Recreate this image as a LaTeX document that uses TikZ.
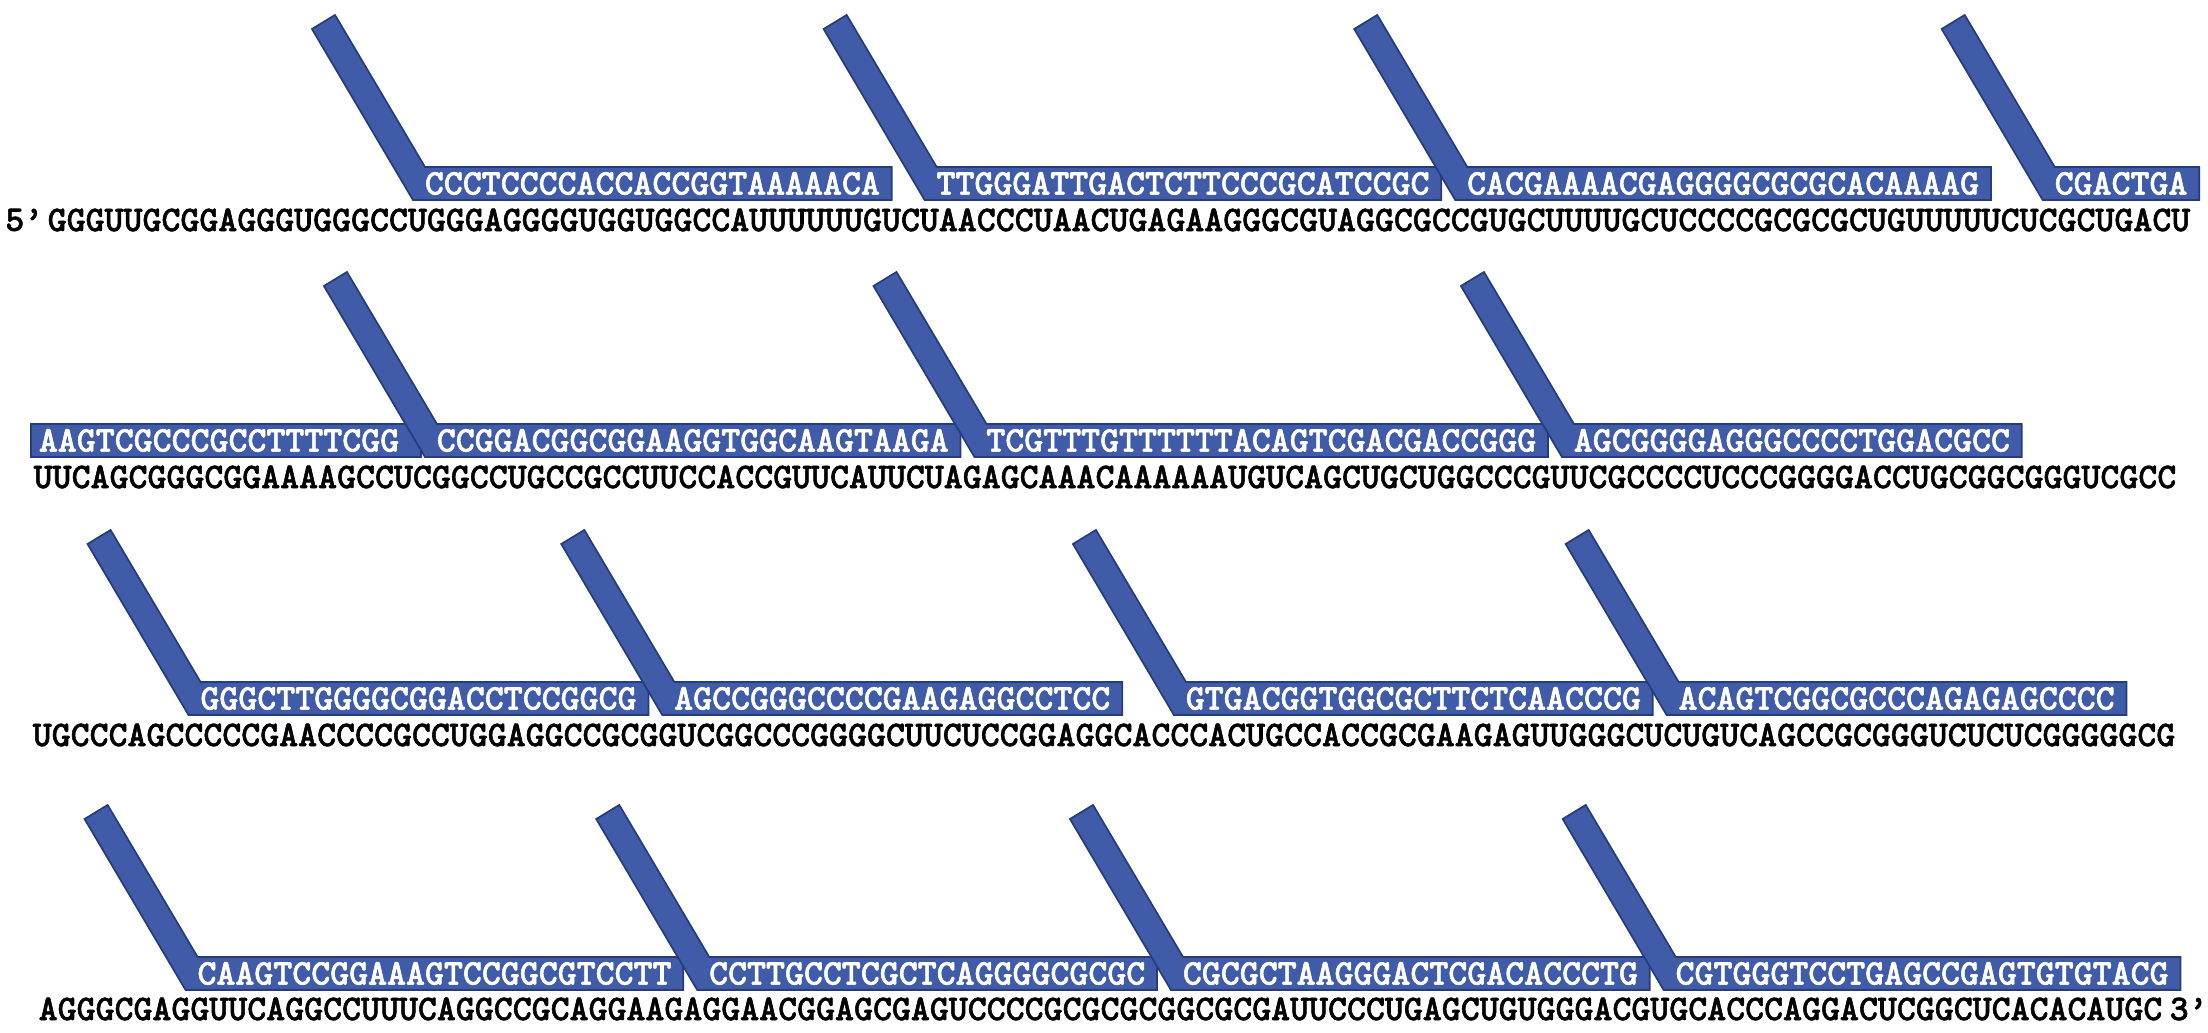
\documentclass[tikz,border=0pt]{standalone}
\usepackage{fontspec}
\usetikzlibrary{positioning}
\newfontfamily\seqfam{lmmonolt10-bold.otf}[FakeBold=1.5]
\definecolor{probeblue}{RGB}{64,92,168}
\definecolor{probeline}{RGB}{38,60,125}
\newcommand{\pch}{18.95}
\newcommand{\seqfont}{\seqfam\fontsize{10.27}{12}\selectfont}
% probe: row start, first letter, letters, bar bottom, name, text
\newcommand{\probebar}[6]{%
  \filldraw[probe] ({#1+#2*\pch-8},#4) -- ++(-101,-171) -- ++(23,-14) -- ++(90,152)
    -- ({#1+(#2+#3)*\pch+16},#4-33) -- ({#1+(#2+#3)*\pch+16},#4) -- cycle;
  \node[probetext] (#5) at ({#1+(#2+#3/2)*\pch+4},#4-16.5) {#6};}
\begin{document}
\begin{tikzpicture}[x=0.01cm, y=-0.01cm,
    probe/.style={fill=probeblue, draw=probeline, line width=0.5pt},
    probetext/.style={text=white, font=\seqfont, inner sep=0pt},
    rna/.style={font=\seqfont, anchor=west, inner sep=0pt},
    endmark/.style={font=\seqfont, inner sep=0pt}]
  \useasboundingbox (0,0) rectangle (2208,1033);

  % row 1
  \probebar{42}{20}{24}{200}{r1a}{CCCTCCCCACCACCGGTAAAAACA}
  \probebar{42}{47}{26}{200}{r1b}{TTGGGATTGACTCTTCCCGCATCCGC}
  \probebar{42}{75}{27}{200}{r1c}{CACGAAAACGAGGGGCGCGCACAAAAG}
  \probebar{42}{106}{7}{200}{r1d}{CGACTGA}
  \node[rna] (rna1) at (47,220) {GGGUUGCGGAGGGUGGGCCUGGGAGGGGUGGUGGCCAUUUUUUGUCUAACCCUAACUGAGAAGGGCGUAGGCGCCGUGCUUUUGCUCCCCGCGCGCUGUUUUUCUCGCUGACU};
  \node[endmark, left=0.03cm of rna1] (five) {5’};

  % row 2
  \filldraw[probe] (31,457) rectangle ({35+21*\pch-12},424);
  \node[probetext] (r2a) at ({35+9.5*\pch+4},440.5) {AAGTCGCCCGCCTTTTCGG};
  \probebar{35}{21}{27}{457}{r2b}{CCGGACGGCGGAAGGTGGCAAGTAAGA}
  \probebar{35}{50}{29}{457}{r2c}{TCGTTTGTTTTTTACAGTCGACGACCGGG}
  \probebar{35}{81}{23}{457}{r2d}{AGCGGGGAGGGCCCCTGGACGCC}
  \node[rna] (rna2) at (33,477) {UUCAGCGGGCGGAAAAGCCUCGGCCUGCCGCCUUCCACCGUUCAUUCUAGAGCAAACAAAAAAUGUCAGCUGCUGGCCCGUUCGCCCCUCCCGGGGACCUGCGGCGGGUCGCC};

  % row 3
  \probebar{26}{9}{23}{715}{r3a}{GGGCTTGGGGCGGACCTCCGGCG}
  \probebar{26}{34}{23}{715}{r3b}{AGCCGGGCCCCGAAGAGGCCTCC}
  \probebar{26}{61}{24}{715}{r3c}{GTGACGGTGGCGCTTCTCAACCCG}
  \probebar{26}{87}{23}{715}{r3d}{ACAGTCGGCGCCCAGAGAGCCCC}
  \node[rna] (rna3) at (32,735) {UGCCCAGCCCCCGAACCCCGCCUGGAGGCCGCGGUCGGCCCGGGGCUUCUCCGGAGGCACCCACUGCCACCGCGAAGAGUUGGGCUCUGUCAGCCGCGGGUCUCUCGGGGGCG};

  % row 4
  \probebar{42}{8}{25}{990}{r4a}{CAAGTCCGGAAAGTCCGGCGTCCTT}
  \probebar{42}{35}{23}{990}{r4b}{CCTTGCCTCGCTCAGGGGCGCGC}
  \probebar{42}{60}{24}{990}{r4c}{CGCGCTAAGGGACTCGACACCCTG}
  \probebar{42}{86}{26}{990}{r4d}{CGTGGGTCCTGAGCCGAGTGTGTACG}
  \node[rna] (rna4) at (38,1009) {AGGGCGAGGUUCAGGCCUUUCAGGCCGCAGGAAGAGGAACGGAGCGAGUCCCCGCGCGCGGCGCGAUUCCCUGAGCUGUGGGACGUGCACCCAGGACUCGGCUCACACAUGC};
  \node[endmark, right=0.06cm of rna4] (three) {3’};
\end{tikzpicture}
\end{document}
